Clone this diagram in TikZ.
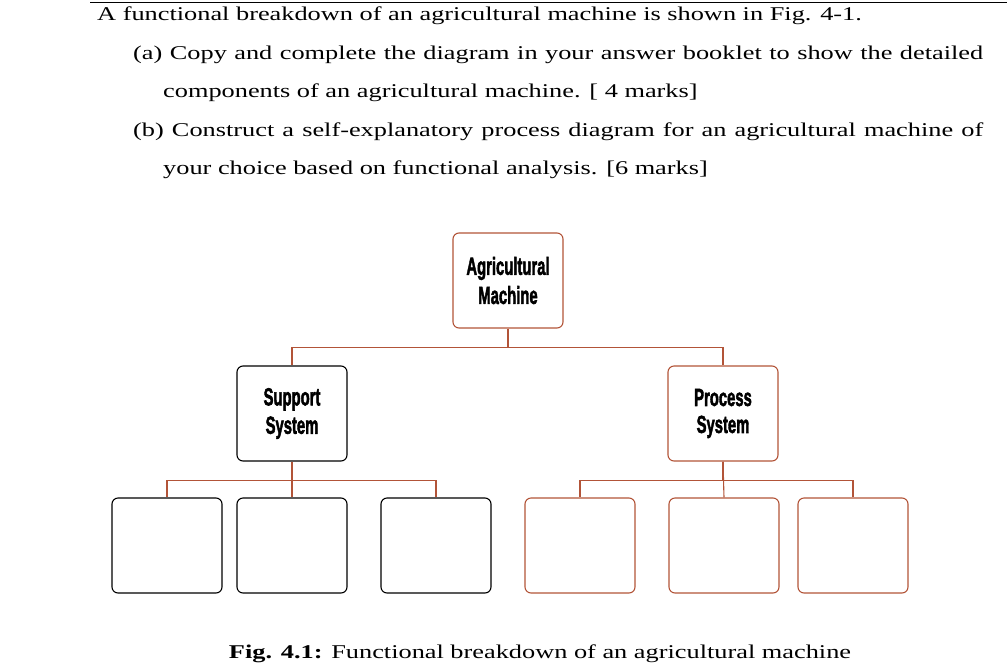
\documentclass[tikz,border=0pt]{standalone}
\usepackage{fontspec}
\setmainfont{Liberation Serif}[FakeStretch=1.35]
\newfontfamily\boxfont{Liberation Sans}[BoldFeatures={FakeBold=2.5}]
\usepackage{graphicx}
\definecolor{brn}{RGB}{178,84,56}
\tikzset{
 bx/.style={draw=#1,line width=1.1pt,rounded corners=6pt,minimum width=110pt,minimum height=95pt,inner sep=0pt,align=center,font=\boxfont\bfseries\fontsize{19}{22}\selectfont},
 ln/.style={draw=brn,line width=1.1pt},
 txt/.style={anchor=base west,inner sep=0pt,font=\fontsize{19.5}{22}\selectfont}
}
\newcommand{\cond}[1]{\scalebox{0.78}[1.3]{#1}}
\begin{document}
\begin{tikzpicture}[x=1pt,y=-1pt]
\useasboundingbox (0,0) rectangle (1007,670);
\coordinate (ls) at (90,2); \coordinate (le) at (1007,2);
\draw[line width=1pt] (ls) -- (le);
\node[txt] (t1) at (97,20) {A functional breakdown of an agricultural machine is shown in Fig. 4-1.};
\node[txt] (t2) at (133,59) {\makebox[850pt][s]{(a) Copy and complete the diagram in your answer booklet to show the detailed}};
\node[txt] (t3) at (163,97) {components of an agricultural machine. [ 4 marks]};
\node[txt] (t4) at (133,136) {\makebox[850pt][s]{(b) Construct a self-explanatory process diagram for an agricultural machine of}};
\node[txt] (t5) at (163,174) {your choice based on functional analysis. [6 marks]};

\node[bx=brn] (am) at (508,280.5) {\cond{Agricultural}\\[5pt]\cond{Machine}};
\node[bx=black] (ss) at (292,413.5) {\cond{Support}\\[5pt]\cond{System}};
\node[bx=brn] (ps) at (723,413.5) {\cond{Process}\\[5pt]\cond{System}};
\node[bx=black] (b1) at (167,545.5) {};
\node[bx=black] (b2) at (292,545.5) {};
\node[bx=black] (b3) at (436,545.5) {};
\node[bx=brn] (b4) at (580,545.5) {};
\node[bx=brn] (b5) at (724,545.5) {};
\node[bx=brn] (b6) at (853,545.5) {};

\draw[ln] (am.south) -- ++(0,19) -| (ss.north);
\draw[ln] (am.south) -- ++(0,19) -| (ps.north);
\draw[ln] (ss.south) -- ++(0,19) -| (b1.north);
\draw[ln] (ss.south) -- (b2.north);
\draw[ln] (ss.south) -- ++(0,19) -| (b3.north);
\draw[ln] (ps.south) -- ++(0,19) -| (b4.north);
\draw[ln] (ps.south) -- (b5.north);
\draw[ln] (ps.south) -- ++(0,19) -| (b6.north);

\node[font=\fontsize{19.5}{22}\selectfont,inner sep=0pt] (cap) at (540,654) {\textbf{Fig. 4.1:} Functional breakdown of an agricultural machine};
\end{tikzpicture}
\end{document}
